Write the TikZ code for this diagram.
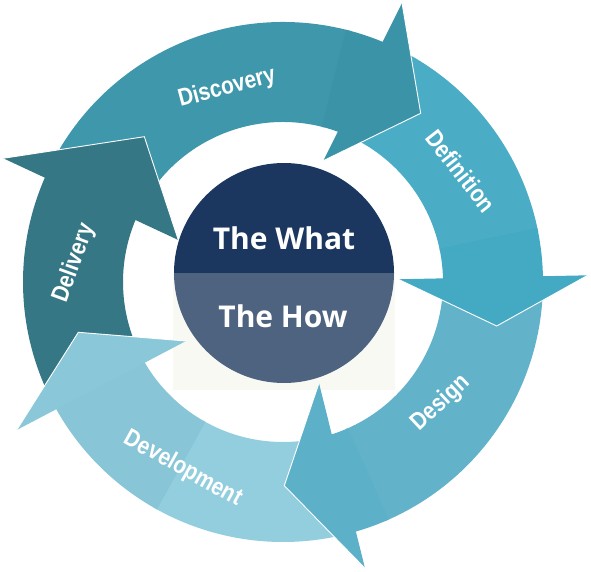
\documentclass[tikz,border=0pt]{standalone}
\usepackage{fontspec}
\usepackage{graphicx}
\setmainfont{Liberation Sans}
\newfontfamily\centerfont{Open Sans}
\usetikzlibrary{calc}
\definecolor{discA}{HTML}{3E97AA}
\definecolor{discB}{HTML}{3A93A7}
\definecolor{defA}{HTML}{4AACC5}
\definecolor{defB}{HTML}{44A9C3}
\definecolor{desA}{HTML}{62B3CA}
\definecolor{desB}{HTML}{5CB0C8}
\definecolor{devA}{HTML}{93CEDE}
\definecolor{devB}{HTML}{87C5D7}
\definecolor{devH}{HTML}{8AC8D9}
\definecolor{delA}{HTML}{357785}
\definecolor{whatC}{HTML}{1B3760}
\definecolor{howC}{HTML}{4D6380}
\definecolor{paperC}{HTML}{F9F9F4}
\newcommand\ringband[3]{%
  \fill[#3] ($(rc)+(#1:260)$) arc[start angle=#1,end angle=#2,radius=260]
    -- ($(rc)+(#2:160)$) arc[start angle=#2,end angle=#1,radius=160] -- cycle;}
\newcommand\headtri[4]{%
  \fill[#4] (#1) -- (#2) -- (#3) -- cycle;
  \draw[headedge] (#1) -- (#2) -- (#3);}
\newcommand\narrowtext[1]{\scalebox{0.85}[1]{#1}}
\tikzset{
  headedge/.style={white, line width=0.9pt, line join=miter},
  arclabel/.style={text=white, font=\bfseries\fontsize{24.5}{24.5}\selectfont, inner sep=0pt},
  centerlabel/.style={text=white, font=\centerfont\bfseries\fontsize{30}{30}\selectfont, inner sep=0pt, anchor=base}
}
\begin{document}
\begin{tikzpicture}[x=1pt,y=1pt]
\useasboundingbox (0,0) rectangle (591,571);
\coordinate (rc) at (283,289);
\coordinate (cc) at (284,298);
% arrowhead points
\coordinate (discO) at (402,568);
\coordinate (discT) at (420.7,457.7);
\coordinate (discI) at (323.3,410.3);
\coordinate (defI) at (398.3,291.7);
\coordinate (defT) at (496.7,245);
\coordinate (defO) at (587.7,295.7);
\coordinate (desI) at (319,188);
\coordinate (desT) at (284.3,85.3);
\coordinate (desO) at (365,2.7);
\coordinate (devT) at (78.3,238.7);
\coordinate (devI) at (186,230);
\coordinate (devO) at (16.7,141);
\coordinate (delO) at (3.3,412.7);
\coordinate (delT) at (144.3,434.3);
\coordinate (delI) at (178.3,331);
% backdrop and centre disc
\fill[paperC] (173,298) rectangle (395,181);
\fill[whatC] ($(cc)+(110,0)$) arc[start angle=0,end angle=180,radius=110] -- cycle;
\fill[howC] ($(cc)+(-110,0)$) arc[start angle=180,end angle=360,radius=110] -- cycle;
% bands (first part overlaps slightly under the second to avoid seams)
\ringband{152}{75}{discA}
\ringband{76}{66}{discB}
\ringband{64}{11}{defA}
\ringband{12}{-2}{defB}
\ringband{-3}{-67}{desA}
\ringband{-66}{-75}{desB}
\ringband{283}{240}{devA}
\ringband{241}{207}{devB}
\ringband{205}{154}{delA}
% heads
\headtri{discO}{discT}{discI}{discB}
\headtri{defI}{defT}{defO}{defB}
\headtri{desI}{desT}{desO}{desB}
\headtri{devI}{devT}{devO}{devH}
\headtri{delO}{delT}{delI}{delA}
% labels
\node[arclabel, rotate=15] (ldisc) at (227,483) {\narrowtext{Discovery}};
\node[arclabel, rotate=-52] (ldef) at (461,400) {\narrowtext{Definition}};
\node[arclabel, rotate=43] (ldes) at (441,168) {\narrowtext{Design}};
\node[arclabel, rotate=-29] (ldev) at (183,102) {\narrowtext{Development}};
\node[arclabel, rotate=70] (ldel) at (74,308) {\narrowtext{Delivery}};
\node[centerlabel] (what) at (284,321.7) {The What};
\node[centerlabel] (how) at (283,244) {The How};
\end{tikzpicture}
\end{document}
